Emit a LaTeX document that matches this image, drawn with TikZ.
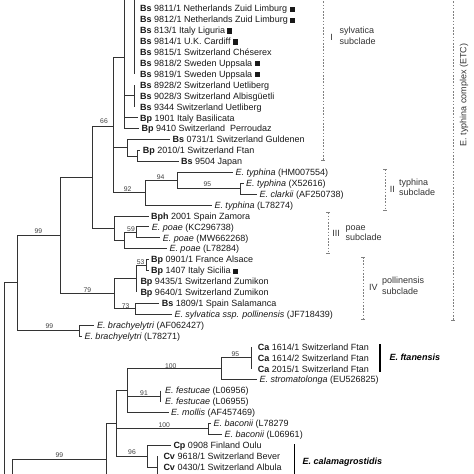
\documentclass[tikz,border=0pt]{standalone}
\usepackage{fontspec}
\setmainfont{Liberation Sans}
\newcommand\sqb{\rule{5.2pt}{5.2pt}}
\begin{document}
\begin{tikzpicture}[x=1pt,y=-1pt,
 br/.style={line width=0.85pt, draw=black!80},
 leaf/.style={anchor=west, inner xsep=2.5pt, inner ysep=0pt, text height=6.5pt, text depth=0pt, font=\fontsize{9}{10}\selectfont, text=black!90},
 bsv/.style={font=\fontsize{6.8}{7}\selectfont, text=black!75, inner sep=0pt},
 grp/.style={draw=black!50, line width=0.6pt, dash pattern=on 1.6pt off 1.6pt},
 tick/.style={draw=black!50, line width=0.6pt},
 sub/.style={anchor=west, inner sep=0pt, text height=6.5pt, text depth=0pt, font=\fontsize{9}{10}\selectfont, text=black!80},
 rom/.style={inner sep=0pt, font=\fontsize{9}{10}\selectfont, text=black!80},
 bar/.style={line width=1.5pt, draw=black},
 taxon/.style={anchor=west, inner sep=0pt, text height=6.5pt, text depth=0pt, font=\bfseries\itshape\fontsize{9}{10}\selectfont},
]
\useasboundingbox (0,0) rectangle (474,474);
\fill[white] (0,0) rectangle (474,474);
\clip (0,0) rectangle (474,474);

% ---------- internal nodes ----------
\coordinate (root)  at (4.3,520);
\coordinate (n1)    at (17.7,282.7);
\coordinate (n2)    at (60.7,235.3);
\coordinate (nbr)   at (79,330.5);
\coordinate (n3)    at (92.7,177.3);
\coordinate (npol)  at (114.3,293.3);
\coordinate (n4)    at (113.3,126);
\coordinate (npoae) at (114.3,228.7);
\coordinate (nsyl)  at (124,57.3);
\coordinate (nA)    at (134.3,-12);
\coordinate (nAend) at (134.3,74.1);
\coordinate (n89)   at (134.3,95.9);
\coordinate (n89a)  at (134.3,85.0);
\coordinate (n89b)  at (134.3,106.8);
\coordinate (ngul)  at (127,147.8);
\coordinate (n2010) at (137.7,156);
\coordinate (ntyp)  at (145.7,192.8);
\coordinate (n94)   at (177.3,180.5);
\coordinate (n95)   at (240.7,188.7);
\coordinate (npoae2) at (124.3,240.5);
\coordinate (n59)   at (136,232.3);
\coordinate (ngrp)  at (136,278.8);
\coordinate (ngrpb) at (136,292.4);
\coordinate (n53)   at (146.7,265.1);
\coordinate (n73)   at (135.7,308.75);
\coordinate (nlow)  at (12.7,510);
\coordinate (n99b)  at (106,459);
\coordinate (n99bb) at (106,490);
\coordinate (n116)  at (116,423.3);
\coordinate (n127)  at (127,390.6);
\coordinate (nftan) at (221.7,368.8);
\coordinate (nca)   at (251.7,357.9);
\coordinate (ncaa)  at (251.7,347.0);
\coordinate (ncab)  at (251.7,368.8);
\coordinate (n91)   at (160,396.05);
\coordinate (n91a)  at (160,390.6);
\coordinate (n91b)  at (160,401.5);
\coordinate (nbac)  at (208.3,428.85);
\coordinate (ncal)  at (147,456.1);
\coordinate (ncv)   at (157.7,467);
\coordinate (ncva)  at (157.7,456.1);
\coordinate (ncvb)  at (157.7,490);

% ---------- leaves ----------
\node[leaf] (l0)  at (137.5,8.6)   {\textbf{Bs} 9811/1 Netherlands Zuid Limburg \sqb};
\node[leaf] (l1)  at (137.5,19.5)  {\textbf{Bs} 9812/1 Netherlands Zuid Limburg \sqb};
\node[leaf] (l2)  at (137.5,30.4)  {\textbf{Bs} 813/1 Italy Liguria\,\sqb};
\node[leaf] (l3)  at (137.5,41.3)  {\textbf{Bs} 9814/1 U.K. Cardiff \sqb};
\node[leaf] (l4)  at (137.5,52.3)  {\textbf{Bs} 9815/1 Switzerland Chéserex};
\node[leaf] (l5)  at (137.5,63.2)  {\textbf{Bs} 9818/2 Sweden Uppsala \sqb};
\node[leaf] (l6)  at (137.5,74.1)  {\textbf{Bs} 9819/1 Sweden Uppsala \sqb};
\node[leaf] (l7)  at (137.5,85.0)  {\textbf{Bs} 8928/2 Switzerland Uetliberg};
\node[leaf] (l8)  at (137.5,95.9)  {\textbf{Bs} 9028/3 Switzerland Albisgüetli};
\node[leaf] (l9)  at (137.5,106.8) {\textbf{Bs} 9344 Switzerland Uetliberg};
\node[leaf] (l10) at (137.5,117.8) {\textbf{Bp} 1901 Italy Basilicata};
\node[leaf] (l11) at (139,128.7)   {\textbf{Bp} 9410 Switzerland\ \ Perroudaz};
\node[leaf] (l12) at (169.8,139.6) {\textbf{Bs} 0731/1 Switzerland Guldenen};
\node[leaf] (l13) at (140.2,150.5) {\textbf{Bp} 2010/1 Switzerland Ftan};
\node[leaf] (l14) at (178.5,161.4) {\textbf{Bs} 9504 Japan};
\node[leaf] (l15) at (232.8,172.3) {\textit{E. typhina} (HM007554)};
\node[leaf] (l16) at (243.5,183.2) {\textit{E. typhina} (X52616)};
\node[leaf] (l17) at (256.8,194.2) {\textit{E. clarkii} (AF250738)};
\node[leaf] (l18) at (211.8,205.1) {\textit{E. typhina} (L78274)};
\node[leaf] (l19) at (148.5,216.0) {\textbf{Bph} 2001 Spain Zamora};
\node[leaf] (l20) at (149.2,226.9) {\textit{E. poae} (KC296738)};
\node[leaf] (l21) at (160.2,237.8) {\textit{E. poae} (MW662268)};
\node[leaf] (l22) at (166.8,248.7) {\textit{E. poae} (L78284)};
\node[leaf] (l23) at (148.5,259.6) {\textbf{Bp} 0901/1 France Alsace};
\node[leaf] (l24) at (148.5,270.6) {\textbf{Bp} 1407 Italy Sicilia \sqb};
\node[leaf] (l25) at (137.8,281.5) {\textbf{Bp} 9435/1 Switzerland Zumikon};
\node[leaf] (l26) at (137.8,292.4) {\textbf{Bp} 9640/1 Switzerland Zumikon};
\node[leaf] (l27) at (159.2,303.3) {\textbf{Bs} 1809/1 Spain Salamanca};
\node[leaf] (l28) at (171.8,314.2) {\textit{E. sylvatica ssp. pollinensis} (JF718439)};
\node[leaf] (l29) at (94.3,325.1)  {\textit{E. brachyelytri} (AF062427)};
\node[leaf] (l30) at (81.8,336.0)  {\textit{E. brachyelytri} (L78271)};
\node[leaf] (l31) at (255.2,347.0) {\textbf{Ca} 1614/1 Switzerland Ftan};
\node[leaf] (l32) at (255.2,357.9) {\textbf{Ca} 1614/2 Switzerland Ftan};
\node[leaf] (l33) at (255.2,368.8) {\textbf{Ca} 2015/1 Switzerland Ftan};
\node[leaf] (l34) at (256.8,379.7) {\textit{E. stromatolonga} (EU526825)};
\node[leaf] (l35) at (162.5,390.6) {\textit{E. festucae} (L06956)};
\node[leaf] (l36) at (162.5,401.5) {\textit{E. festucae} (L06955)};
\node[leaf] (l37) at (168.5,412.5) {\textit{E. mollis} (AF457469)};
\node[leaf] (l38) at (210.8,423.4) {\textit{E. baconii} (L78279};
\node[leaf] (l39) at (221.8,434.3) {\textit{E. baconii} (L06961)};
\node[leaf] (l40) at (170.8,445.2) {\textbf{Cp} 0908 Finland Oulu};
\node[leaf] (l41) at (160.8,456.1) {\textbf{Cv} 9618/1 Switzerland Bever};
\node[leaf] (l42) at (160.8,467.0) {\textbf{Cv} 0430/1 Switzerland Albula};

% ---------- branches ----------
\draw[br] (root) |- (n1);
\draw[br] (n1) |- (n2);  \draw[br] (n1) |- (nbr);
\draw[br] (n2) |- (n3);  \draw[br] (n2) |- (npol);
\draw[br] (n3) |- (n4);  \draw[br] (n3) |- (npoae);
\draw[br] (n4) |- (nsyl); \draw[br] (n4) |- (ngul); \draw[br] (n4) |- (ntyp);
\draw[br] (nsyl) |- (nA); \draw[br] (nA) -- (nAend);
\draw[br] (nsyl) |- (n89); \draw[br] (n89a) -- (n89b);
\draw[br] (nsyl) |- (l10.west); \draw[br] (nsyl) |- (l11.west);
\draw[br] (ngul) |- (l12.west); \draw[br] (ngul) |- (n2010);
\draw[br] (n2010) |- (l13.west); \draw[br] (n2010) |- (l14.west);
\draw[br] (ntyp) |- (n94); \draw[br] (ntyp) |- (l18.west);
\draw[br] (n94) |- (l15.west); \draw[br] (n94) |- (n95);
\draw[br] (n95) |- (l16.west); \draw[br] (n95) |- (l17.west);
\draw[br] (npoae) |- (l19.west); \draw[br] (npoae) |- (npoae2);
\draw[br] (npoae2) |- (n59); \draw[br] (npoae2) |- (l22.west);
\draw[br] (n59) |- (l20.west); \draw[br] (n59) |- (l21.west);
\draw[br] (npol) |- (ngrp); \draw[br] (npol) |- (n73);
\draw[br] (ngrp) |- (n53); \draw[br] (ngrp) -- (ngrpb);
\draw[br] (n53) |- (l23.west); \draw[br] (n53) |- (l24.west);
\draw[br] (n73) |- (l27.west); \draw[br] (n73) |- (l28.west);
\draw[br] (nbr) |- (l29.west); \draw[br] (nbr) |- (l30.west);
\draw[br] (nlow) |- (n99b); \draw[br] (n99b) -- (n99bb); \draw[br] (n99b) |- (n116);
\draw[br] (n116) |- (n127); \draw[br] (n116) |- (nbac); \draw[br] (n116) |- (ncal);
\draw[br] (n127) |- (nftan); \draw[br] (n127) |- (n91); \draw[br] (n127) |- (l37.west);
\draw[br] (nftan) |- (nca); \draw[br] (nftan) |- (l34.west);
\draw[br] (ncaa) -- (ncab);
\draw[br] (n91a) -- (n91b);
\draw[br] (nbac) |- (l38.west); \draw[br] (nbac) |- (l39.west);
\draw[br] (ncal) |- (l40.west); \draw[br] (ncal) |- (ncv);
\draw[br] (ncva) -- (ncvb);

% ---------- bootstrap values ----------
\node[bsv] (b1)  at (38.4,231)   {99};
\node[bsv] (b2)  at (49.3,326.3) {99};
\node[bsv] (b3)  at (87.3,289.7) {79};
\node[bsv] (b4)  at (104,121)    {66};
\node[bsv] (b5)  at (127.7,188.7) {92};
\node[bsv] (b6)  at (160.7,176.7) {94};
\node[bsv] (b7)  at (207.3,184.3) {95};
\node[bsv] (b8)  at (131,228.7)  {59};
\node[bsv] (b9)  at (140.7,262)  {53};
\node[bsv] (b10) at (125.7,306)  {73};
\node[bsv] (b11) at (170.7,365.7) {100};
\node[bsv] (b12) at (235.3,354)  {95};
\node[bsv] (b13) at (144,392.7)  {91};
\node[bsv] (b14) at (164.3,424.7) {100};
\node[bsv] (b15) at (132,452.3)  {96};
\node[bsv] (b16) at (59.3,454.7) {99};

% ---------- subclade brackets ----------
\draw[grp] (323.3,-5) -- (323.3,160);  \draw[tick] (321.3,160) -- (325.3,160);
\draw[grp] (385,169.3) -- (385,210);   \draw[tick] (383,169.3) -- (387,169.3); \draw[tick] (383,210) -- (387,210);
\draw[grp] (328.3,212.3) -- (328.3,253.3); \draw[tick] (326.3,212.3) -- (330.3,212.3); \draw[tick] (326.3,253.3) -- (330.3,253.3);
\draw[grp] (363.3,257) -- (363.3,319);  \draw[tick] (361.3,257) -- (365.3,257); \draw[tick] (361.3,319) -- (365.3,319);
\draw[grp] (453.3,-5) -- (453.3,320.7); \draw[tick] (451.3,320.7) -- (455.3,320.7);

\node[rom] (r1) at (331.7,37.3) {I};
\node[sub] (s1a) at (339.3,30.7) {sylvatica};
\node[sub] (s1b) at (339.3,41.7) {subclade};
\node[rom] (r2) at (392.3,189) {II};
\node[sub] (s2a) at (399,182) {typhina};
\node[sub] (s2b) at (399,192.7) {subclade};
\node[rom] (r3) at (336,233.3) {III};
\node[sub] (s3a) at (345.3,227) {poae};
\node[sub] (s3b) at (345.3,237.7) {subclade};
\node[rom] (r4) at (373.3,287.3) {IV};
\node[sub] (s4a) at (382,280.7) {pollinensis};
\node[sub] (s4b) at (382,291.7) {subclade};
\node[rom, rotate=90] (etc) at (464,95) {E. typhina complex (ETC)};

% ---------- species bars ----------
\draw[bar] (380,344.3) -- (380,371.5);
\node[taxon] (tf) at (389.3,357) {E. ftanensis};
\draw[bar] (294.3,444.3) -- (294.3,480);
\node[taxon] (tc) at (302.3,461.7) {E. calamagrostidis};
\end{tikzpicture}
\end{document}
